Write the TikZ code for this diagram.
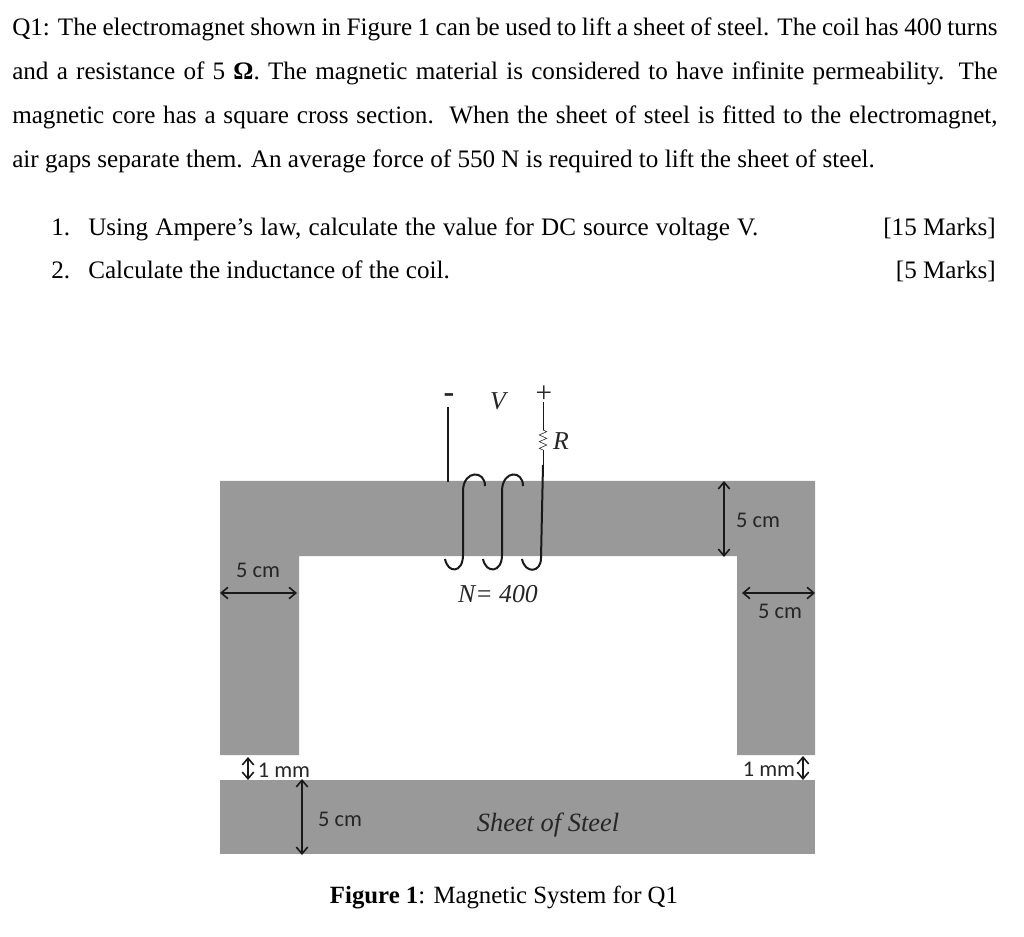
\documentclass[tikz,border=0pt]{standalone}
\usepackage{fontspec}
\setmainfont{Liberation Serif}
\newfontfamily\labelfont{Carlito}
\usetikzlibrary{positioning,arrows,arrows.meta,calc,decorations.pathmorphing}

\begin{document}
\begin{tikzpicture}[x=0.75pt,y=-0.75pt,inner sep=0pt]
	\tikzstyle{body}=[font=\fontsize{18.85}{33}\selectfont]
	\tikzstyle{core}=[fill=black!40,draw=none]
	\tikzstyle{dim}=[{Straight Barb[length=5pt,width=8.5pt]}-{Straight Barb[length=5pt,width=8.5pt]},black!90,line width=1.2pt]
	\tikzstyle{wire}=[black!90,line width=1.5pt]
	\tikzstyle{size}=[font=\labelfont\fontsize{16.8}{20}\selectfont,text=black!85]
	\tikzstyle{symbol}=[font=\fontsize{19.3}{22}\selectfont\itshape,text=black!85]
	\useasboundingbox (0,0) rectangle (1024,937);

	%question
	\node[body,anchor=north west,text width=739pt,align=justify] (question) at (12,18) {Q1: The electromagnet shown in Figure 1 can be used to lift a sheet of steel. The coil has 400 turns\linebreak
	and a resistance of 5 \textbf{Ω}. The magnetic material is considered to have infinite permeability. The\linebreak
	magnetic core has a square cross section.\ \ When the sheet of steel is fitted to the electromagnet,\linebreak
	air gaps separate them. An average force of 550 N is required to lift the sheet of steel.};

	%parts
	\node[body,anchor=base west] (numA) at (51,236) {1.};
	\node[body,anchor=base west,text width=502.5pt,align=justify] (partA) at (88,236) {Using Ampere’s law, calculate the value for DC source voltage V.\linebreak};
	\node[body,anchor=base east] (marksA) at (996,236) {[15 Marks]};
	\node[body,anchor=base west] (numB) at (51,279) {2.};
	\node[body,anchor=base west] (partB) at (88,279) {Calculate the inductance of the coil.};
	\node[body,anchor=base east] (marksB) at (996,279) {[5 Marks]};

	%core
	\fill[core] (220,481) -- (815,481) -- (815,755) -- (737,755) -- (737,556) -- (299,556) -- (299,755) -- (220,755) -- cycle;
	\fill[core] (220,780) rectangle (815,854);

	%source
	\node[font=\fontsize{24}{26}\selectfont\bfseries,text=black!85] (minus) at (449,398) {-};
	\node[font=\fontsize{22}{24}\selectfont,text=black!85] (plus) at (544,394) {+};
	\node[symbol] (vLabel) at (498,401) {V};
	\node[symbol] (rLabel) at (561,441) {R};
	\coordinate (minusEnd) at (448,407);
	\coordinate (minusCore) at (448,482);
	\coordinate (plusEnd) at (543,402);
	\coordinate (resTop) at (543,430);
	\coordinate (resBot) at (543,450);
	\coordinate (resLead) at (543,465);
	\coordinate (coilEnd) at (541,558);
	\draw[wire] (minusEnd) -- (minusCore);
	\draw[black!90] (plusEnd) -- (resTop);
	\draw[black!90,decorate,decoration={zigzag,amplitude=2.8pt,segment length=5pt}] (resTop) -- (resBot);
	\draw[black!90] (resBot) -- (resLead);
	\draw[wire] (resLead) -- (coilEnd);

	%coil
	\draw[wire] (445,559) .. controls (448,574) and (463,573) .. (463,555) -- (463,490) .. controls (464,470) and (485,470) .. (485,486);
	\draw[wire] (483,559) .. controls (486,574) and (502,573) .. (502,555) -- (502,490) .. controls (503,470) and (523,470) .. (523,486);
	\draw[wire] (522,559) .. controls (525,574) and (541,573) .. (coilEnd);
	\node[symbol] (turns) at (498,594) {N= 400};

	%dimensions
	\coordinate (leftA) at (220,593);
	\coordinate (leftB) at (297,593);
	\draw[dim] (leftA) -- (leftB);
	\node[size] (leftSize) at (258,570) {5 cm};
	\coordinate (rightA) at (742,593);
	\coordinate (rightB) at (815,593);
	\draw[dim] (rightA) -- (rightB);
	\node[size] (rightSize) at (780,611) {5 cm};
	\coordinate (topA) at (724,481);
	\coordinate (topB) at (724,557);
	\draw[dim] (topA) -- (topB);
	\node[size] (topSize) at (758,520) {5 cm};
	\coordinate (plateA) at (302,779);
	\coordinate (plateB) at (302,855);
	\draw[dim] (plateA) -- (plateB);
	\node[size] (plateSize) at (340,819) {5 cm};
	\coordinate (gapLeftA) at (248,757);
	\coordinate (gapLeftB) at (248,780);
	\draw[dim] (gapLeftA) -- (gapLeftB);
	\node[size] (gapLeft) at (284,770) {1 mm};
	\coordinate (gapRightA) at (803,756);
	\coordinate (gapRightB) at (803,780);
	\draw[dim] (gapRightA) -- (gapRightB);
	\node[size] (gapRight) at (769,769) {1 mm};

	%captions
	\node[font=\fontsize{19.8}{24}\selectfont\itshape,text=black!85] (sheet) at (548,825) {Sheet of Steel};
	\node[font=\fontsize{18.6}{24}\selectfont,anchor=base] (caption) at (504,903) {\textbf{Figure 1}: Magnetic System for Q1};
\end{tikzpicture}
\end{document}
